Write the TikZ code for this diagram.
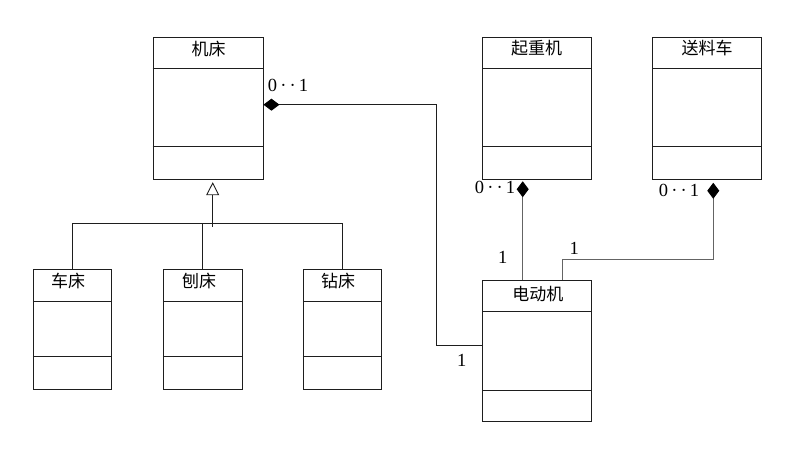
\documentclass[tikz,border=0pt]{standalone}
\usepackage{fontspec}
\setmainfont{Liberation Serif}
\newfontfamily\cjk{Noto Sans CJK SC}
\usetikzlibrary{arrows.meta,calc}
\definecolor{aggc}{RGB}{100,100,100}
\definecolor{linec}{RGB}{30,30,30}
\newcommand\classdivs[3]{%
  \draw[line width=0.9pt, draw=linec] ($(#1.north west)+(0,#2)$) -- ($(#1.north east)+(0,#2)$);
  \draw[line width=0.9pt, draw=linec] ($(#1.north west)+(0,#3)$) -- ($(#1.north east)+(0,#3)$);}
\begin{document}
\begin{tikzpicture}[x=1pt,y=-1pt,
  cls/.style={draw=linec, line width=0.9pt, inner sep=0pt},
  cname/.style={font=\cjk\fontsize{17}{20}\selectfont, inner sep=0pt},
  mult/.style={font=\fontsize{18.5}{20}\selectfont, inner sep=0pt},
  conn/.style={line width=0.9pt, draw=linec},
  agg/.style={conn, {Diamond[length=16pt,width=12pt,color=black]}-},
  gen/.style={conn, -{Triangle[open,length=13pt,width=13pt,line width=0.9pt]}}]
\useasboundingbox (0,0) rectangle (812,453);

% superclass
\node[cls, minimum width=110pt, minimum height=141.8pt] (jc) at (208,108.4) {};
\classdivs{jc}{31.5}{109.2}
\node[cname] (jcn) at ($(jc.north)+(0.7,11.5)$) {机床};

% subclasses
\node[cls, minimum width=78.4pt, minimum height=120.3pt] (cc) at (72.5,329.2) {};
\classdivs{cc}{32.7}{87.7}
\node[cname] (ccn) at ($(cc.north)+(-4.5,12.2)$) {车床};

\node[cls, minimum width=79pt, minimum height=120.3pt] (bc) at (202.8,329.2) {};
\classdivs{bc}{32.7}{87.7}
\node[cname] (bcn) at ($(bc.north)+(-3.8,12.2)$) {刨床};

\node[cls, minimum width=78.4pt, minimum height=120.3pt] (zc) at (342.5,329.2) {};
\classdivs{zc}{32.7}{87.7}
\node[cname] (zcn) at ($(zc.north)+(-4.5,12.2)$) {钻床};

% right classes
\node[cls, minimum width=109pt, minimum height=141.6pt] (qz) at (537.2,108.5) {};
\classdivs{qz}{31.3}{109}
\node[cname] (qzn) at ($(qz.north)+(-0.5,11.1)$) {起重机};

\node[cls, minimum width=109pt, minimum height=141.6pt] (sl) at (707.2,108.5) {};
\classdivs{sl}{31.3}{109}
\node[cname] (sln) at ($(sl.north)+(0,11.1)$) {送料车};

\node[cls, minimum width=109pt, minimum height=141.7pt] (dd) at (537.2,350.85) {};
\classdivs{dd}{32.3}{110.7}
\node[cname] (ddn) at ($(dd.north)+(0.6,14)$) {电动机};

% generalization
\draw[conn] (cc.north) -- ++(0,-44.75) -| (zc.north);
\draw[conn] (bc.north) -- ++(0,-44.75);
\draw[gen] ($(jc.south)+(4.7,47)$) -- ($(jc.south)+(4.7,2.4)$);

% aggregations
\draw[agg] ($(jc.east)+(0,-3.7)$) -- ++(172.8,0) |- ($(dd.west)+(0,-5.2)$);
\draw[agg, draw=aggc] ($(qz.south)+(-14.5,1.5)$) -- ($(dd.north)+(-14.5,0)$);
\draw[agg, draw=aggc] ($(sl.south)+(6.1,3)$) |- ($(dd.north)+(25.1,-20)$) -- ($(dd.north)+(25.1,0)$);

% multiplicities
\node[mult] (l1) at (288,85) {0\,·\,·\,1};
\node[mult] (l2) at (495,187.7) {0\,·\,·\,1};
\node[mult] (l3) at (679,190.7) {0\,·\,·\,1};
\node[mult] (l4) at (502.7,257.3) {1};
\node[mult] (l5) at (574.3,248.3) {1};
\node[mult] (l6) at (461.7,360) {1};
\end{tikzpicture}
\end{document}
